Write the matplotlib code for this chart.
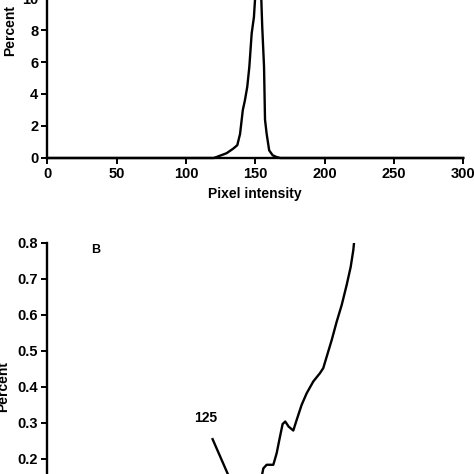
import matplotlib
matplotlib.use("Agg")
import matplotlib.pyplot as plt

plt.rcParams['font.family'] = ['Liberation Sans', 'DejaVu Sans']
plt.rcParams['font.weight'] = 'bold'

# Panel A: histogram of pixel intensity (percent)
a_x = [0, 100, 120, 122, 129.3, 134, 137, 139, 141, 142.5, 144.2, 145.7, 147.4, 149, 149.8,
       150.5, 152, 153.6, 154.3, 155, 156.3, 157, 158.2, 160, 162.5, 165.4, 168, 200, 300]
a_y = [0, 0, 0, 0.06, 0.3, 0.58, 0.8, 1.5, 3.0, 3.6, 4.45, 5.7, 7.8, 8.8, 9.9,
       11.5, 13.0, 11.5, 10.0, 8.2, 5.7, 2.4, 1.5, 0.48, 0.17, 0.06, 0, 0, 0]
a_xticks = [0, 50, 100, 150, 200, 250, 300]
a_yticks = [0, 2, 4, 6, 8, 10, 12, 14, 16]

# Panel B: enlarged view
b_x = [119.2, 130.1, 138, 146, 154.6, 155.8, 158.2, 163.0, 165.4, 167.8, 169.7, 171.6, 174.0,
       177.4, 179.8, 183.4, 187.0, 191.8, 196.6, 199.0, 201.5, 205.1, 208.7, 212.3, 215.9,
       218.8, 220.7, 221.2, 222.0]
b_y = [0.255, 0.159, 0.09, 0.06, 0.151, 0.174, 0.184, 0.184, 0.216, 0.262, 0.297, 0.304, 0.290,
       0.279, 0.308, 0.350, 0.382, 0.415, 0.438, 0.452, 0.484, 0.530, 0.581, 0.627, 0.683,
       0.733, 0.780, 0.800, 0.86]
b_yticks = [0.1, 0.2, 0.3, 0.4, 0.5, 0.6, 0.7, 0.8]
b_ytick_labels = ['0.1', '0.2', '0.3', '0.4', '0.5', '0.6', '0.7', '0.8']

W = H = 474.0
fig = plt.figure(figsize=(4.74, 4.74), dpi=100)

def frac_rect(left_px, top_px, right_px, bottom_px):
    return [left_px / W, 1 - bottom_px / H, (right_px - left_px) / W, (bottom_px - top_px) / H]

x0_px, x1_px = 47.3, 463.3
# Panel A: 0 at y=158 px, 16 at y=-98 px
axA = fig.add_axes(frac_rect(x0_px, -98, x1_px, 158))
axA.plot(a_x, a_y, color='black', lw=1.7, clip_on=False, solid_joinstyle='round')
axA.set_xlim(0, 300)
axA.set_ylim(0, 16)
axA.set_xticks(a_xticks)
axA.set_yticks(a_yticks)
axA.set_xlabel('Pixel intensity', fontsize=10, fontweight='bold', labelpad=4)
axA.set_ylabel('Percent', fontsize=10, fontweight='bold')
axA.yaxis.set_label_coords(-0.073, 0.5)

# Panel B: 0.8 at y=242.7 px, 0 at y=531 px
axB = fig.add_axes(frac_rect(x0_px, 242.7, x1_px, 531.1))
axB.plot(b_x, b_y, color='black', lw=1.7, solid_joinstyle='round')
axB.set_xlim(0, 300)
axB.set_ylim(0, 0.8)
axB.set_yticks(b_yticks)
axB.set_yticklabels(b_ytick_labels)
axB.set_ylabel('Percent', fontsize=10, fontweight='bold')
axB.yaxis.set_label_coords(-0.089, 0.5)
axB.text(35, 0.78, 'B', fontsize=9, fontweight='bold', ha='center', va='center')
axB.text(113.9, 0.314, '125', fontsize=10, fontweight='bold', ha='center', va='center')

for ax in (axA, axB):
    for s in ('top', 'right'):
        ax.spines[s].set_visible(False)
    for s in ('left', 'bottom'):
        ax.spines[s].set_linewidth(1.7)
    ax.tick_params(direction='out', length=4.5, width=1.4, labelsize=10.5, pad=2)
    for lab in ax.get_xticklabels() + ax.get_yticklabels():
        lab.set_fontweight('bold')

fig.savefig('out.png', dpi=100)
